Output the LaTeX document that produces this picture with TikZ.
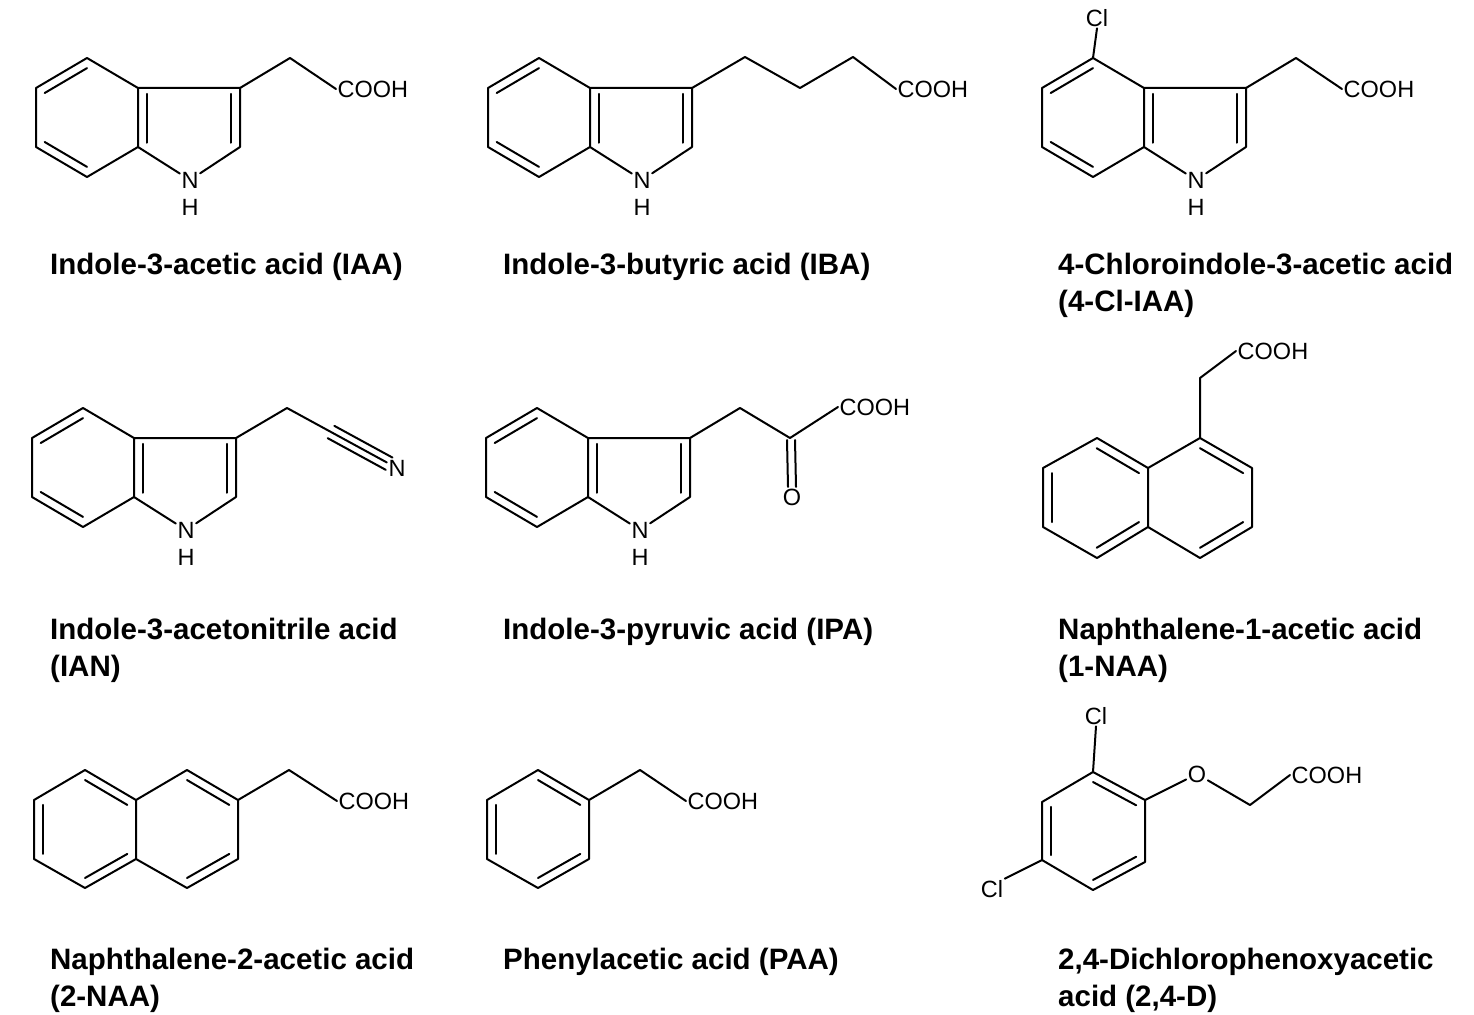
\documentclass[tikz,border=0pt]{standalone}
\usepackage{fontspec}
\setmainfont{Liberation Sans}
\usetikzlibrary{calc}
\tikzset{bond/.style={line width=2pt,line cap=round,line join=round},
 atom/.style={inner sep=1.5pt,font=\fontsize{23.5}{25}\selectfont},
 lab/.style={anchor=base west,inner sep=0pt,font=\bfseries\fontsize{29.5}{32}\selectfont}}
\newcommand\dbl[3]{\draw[bond] ($(#1)!0.17!(#3)$) -- ($(#2)!0.17!(#3)$);}
\newcommand\drawindole[1]{%
 \coordinate (#1a) at (87,58); \coordinate (#1b) at (36,88); \coordinate (#1c) at (36,147);
 \coordinate (#1d) at (87,177); \coordinate (#1e) at (138,147); \coordinate (#1f) at (138,88);
 \coordinate (#1g) at (240,88); \coordinate (#1h) at (240,147);
 \coordinate (#1k) at (87,117.5); \coordinate (#1m) at (189,122);
 \node[atom] (#1N) at (190,180) {N}; \node[atom] (#1H) at (190,207) {H};
 \draw[bond] (#1f)--(#1a)--(#1b)--(#1c)--(#1d)--(#1e)--(#1f)--(#1g)--(#1h)--(#1N)--(#1e);
 \dbl{#1a}{#1b}{#1k}\dbl{#1c}{#1d}{#1k}\dbl{#1f}{#1e}{#1m}\dbl{#1g}{#1h}{#1m}}
\begin{document}
\begin{tikzpicture}[x=1pt,y=-1pt]
\fill[white] (0,0) rectangle (1474,1014);
\useasboundingbox (0,0) rectangle (1474,1014);
% IAA
\drawindole{a}
\coordinate (a1) at (290,58);
\node[atom,anchor=west] (aC) at (336,89) {COOH};
\draw[bond] (ag)--(a1)--(aC.west);
% IBA
\begin{scope}[shift={(452,0)}]\drawindole{b}\end{scope}
\coordinate (b1) at (745,57); \coordinate (b2) at (800,88); \coordinate (b3) at (853,57);
\node[atom,anchor=west] (bC) at (896,89) {COOH};
\draw[bond] (bg)--(b1)--(b2)--(b3)--(bC.west);
% 4-Cl-IAA
\begin{scope}[shift={(1006,0)}]\drawindole{c}\end{scope}
\coordinate (c1) at (1296,58);
\node[atom,anchor=west] (cC) at (1342,89) {COOH};
\draw[bond] (cg)--(c1)--(cC.west);
\node[atom] (cCl) at (1097,18) {Cl};
\draw[bond] (ca)--(cCl.south);
% IAN
\begin{scope}[shift={(-4,350)}]\drawindole{d}\end{scope}
\coordinate (d1) at (287,408);
\node[atom] (dNt) at (397,468) {N};
\coordinate (d2) at ($(d1)!0.4!(dNt)$);
\draw[bond] (dg)--(d1)--(dNt);
\draw[bond] ($(d2)!7pt!90:(dNt)$) -- ($(dNt)!9pt!(d1)!7pt!-90:(d1)$);
\draw[bond] ($(d2)!7pt!-90:(dNt)$) -- ($(dNt)!9pt!(d1)!7pt!90:(d1)$);
% IPA
\begin{scope}[shift={(450,350)}]\drawindole{e}\end{scope}
\coordinate (e1) at (740,408); \coordinate (e2) at (790,438);
\node[atom,anchor=west] (eC) at (838,407) {COOH};
\node[atom] (eO) at (792,497) {O};
\draw[bond] (eg)--(e1)--(e2)--(eC.west);
\draw[bond] ($(e2)+(-3,2)$)--($(eO.north)+(-4,0)$);
\draw[bond] ($(e2)+(5,2)$)--($(eO.north)+(4,0)$);
% 1-NAA
\coordinate (f1) at (1097,438); \coordinate (f2) at (1043,468); \coordinate (f3) at (1043,527);
\coordinate (f4) at (1097,558); \coordinate (f5) at (1148,527); \coordinate (f6) at (1148,468);
\coordinate (f7) at (1200,438); \coordinate (f8) at (1252,468); \coordinate (f9) at (1252,527);
\coordinate (f10) at (1200,558);
\coordinate (fk) at (1095,498); \coordinate (fm) at (1200,498);
\coordinate (fc) at (1200,378);
\node[atom,anchor=west] (fC) at (1236,351) {COOH};
\draw[bond] (f6)--(f1)--(f2)--(f3)--(f4)--(f5)--(f6)--(f7)--(f8)--(f9)--(f10)--(f5);
\dbl{f1}{f6}{fk}\dbl{f2}{f3}{fk}\dbl{f4}{f5}{fk}\dbl{f7}{f8}{fm}\dbl{f9}{f10}{fm}
\draw[bond] (f7)--(fc)--(fC.west);
% 2-NAA
\coordinate (g1) at (85,770); \coordinate (g2) at (34,800); \coordinate (g3) at (34,859);
\coordinate (g4) at (85,888); \coordinate (g5) at (136,859); \coordinate (g6) at (136,800);
\coordinate (g7) at (187,770); \coordinate (g8) at (238,800); \coordinate (g9) at (238,859);
\coordinate (g10) at (187,888);
\coordinate (gk) at (85,829); \coordinate (gm) at (187,829);
\coordinate (gc) at (289,770);
\node[atom,anchor=west] (gC) at (337,801) {COOH};
\draw[bond] (g6)--(g1)--(g2)--(g3)--(g4)--(g5)--(g6)--(g7)--(g8)--(g9)--(g10)--(g5);
\dbl{g1}{g6}{gk}\dbl{g2}{g3}{gk}\dbl{g4}{g5}{gk}\dbl{g7}{g8}{gm}\dbl{g9}{g10}{gm}
\draw[bond] (g8)--(gc)--(gC.west);
% PAA
\coordinate (h1) at (538,770); \coordinate (h2) at (589,800); \coordinate (h3) at (589,859);
\coordinate (h4) at (538,888); \coordinate (h5) at (487,859); \coordinate (h6) at (487,800);
\coordinate (hk) at (538,829); \coordinate (hc) at (640,770);
\node[atom,anchor=west] (hC) at (686,801) {COOH};
\draw[bond] (h1)--(h2)--(h3)--(h4)--(h5)--(h6)--cycle;
\dbl{h1}{h2}{hk}\dbl{h5}{h6}{hk}\dbl{h3}{h4}{hk}
\draw[bond] (h2)--(hc)--(hC.west);
% 2,4-D
\coordinate (i1) at (1145,800); \coordinate (i2) at (1093,772); \coordinate (i3) at (1042,802);
\coordinate (i4) at (1042,860); \coordinate (i5) at (1093,890); \coordinate (i6) at (1145,862);
\coordinate (ik) at (1093,831); \coordinate (ic) at (1250,805);
\node[atom] (iO) at (1197,774) {O};
\node[atom] (iCl1) at (1096,716) {Cl};
\node[atom] (iCl2) at (992,889) {Cl};
\node[atom,anchor=west] (iC) at (1290,775) {COOH};
\draw[bond] (i1)--(i2)--(i3)--(i4)--(i5)--(i6)--cycle;
\dbl{i1}{i2}{ik}\dbl{i3}{i4}{ik}\dbl{i5}{i6}{ik}
\draw[bond] (i2)--(iCl1.south);
\draw[bond] (i4)--(iCl2.north east);
\draw[bond] (i1)--(iO)--(ic)--(iC.west);
% labels
\node[lab] at (50,274) {Indole-3-acetic acid (IAA)};
\node[lab] at (503,274) {Indole-3-butyric acid (IBA)};
\node[lab] at (1058,274) {4-Chloroindole-3-acetic acid};
\node[lab] at (1058,311) {(4-Cl-IAA)};
\node[lab] at (50,639) {Indole-3-acetonitrile acid};
\node[lab] at (50,676) {(IAN)};
\node[lab] at (503,639) {Indole-3-pyruvic acid (IPA)};
\node[lab] at (1058,639) {Naphthalene-1-acetic acid};
\node[lab] at (1058,676) {(1-NAA)};
\node[lab] at (50,969) {Naphthalene-2-acetic acid};
\node[lab] at (50,1006) {(2-NAA)};
\node[lab] at (503,969) {Phenylacetic acid (PAA)};
\node[lab] at (1058,969) {2,4-Dichlorophenoxyacetic};
\node[lab] at (1058,1006) {acid (2,4-D)};
\end{tikzpicture}
\end{document}
